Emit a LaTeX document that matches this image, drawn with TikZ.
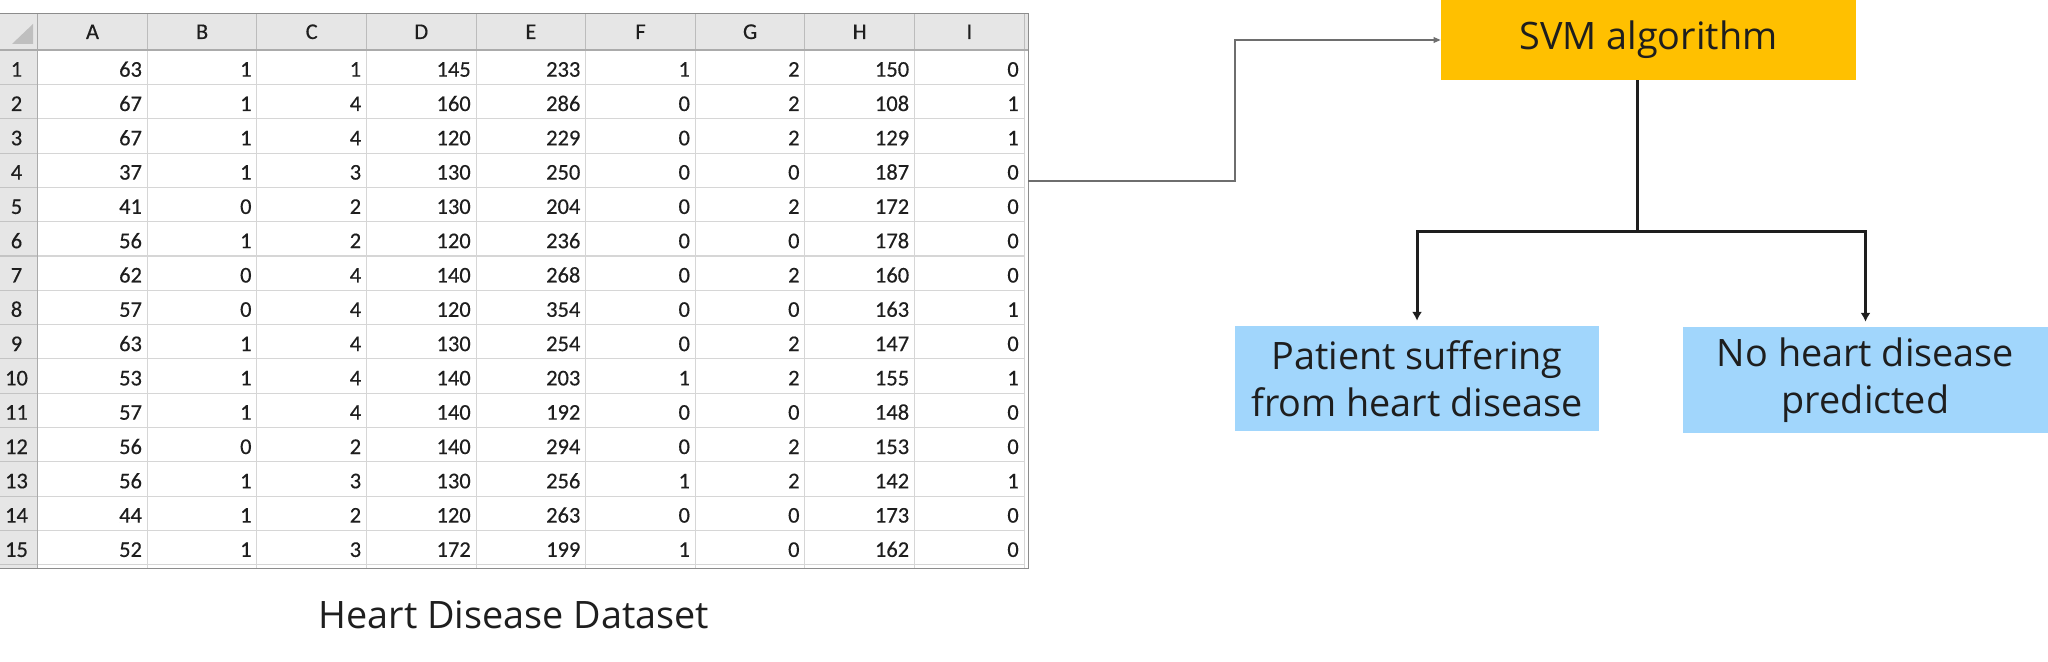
\documentclass[tikz,border=0pt]{standalone}
\usepackage{fontspec}
\setmainfont{Open Sans}
\newfontfamily\cellfont[FakeBold=0.4]{Carlito}
\usetikzlibrary{arrows.meta,positioning}
\definecolor{svmgold}{HTML}{FFC000}
\definecolor{outblue}{HTML}{A1D6FC}
\definecolor{gridgray}{HTML}{D6D6D6}
\definecolor{headgray}{HTML}{E6E6E6}
\definecolor{headline}{HTML}{ABABAB}
\definecolor{sheetline}{HTML}{8C8C8C}
\definecolor{linkgray}{HTML}{6E6E6E}
\definecolor{inkdark}{HTML}{1E1E1E}

\begin{document}
\begin{tikzpicture}[
    x=0.02cm,y=-0.02cm,
    box/.style={inner sep=0pt, align=center, text=inkdark, font=\fontsize{21.5}{26.7}\selectfont},
    cell/.style={inner sep=0pt, anchor=base east, text=inkdark, font=\cellfont\fontsize{12.8}{14}\selectfont},
    headtxt/.style={cell, anchor=base},
    link/.style={linkgray, line width=0.85pt, -{Triangle[length=4pt,width=3.2pt]}},
    branch/.style={inkdark, line width=1.7pt}
    ]
    \useasboundingbox (0,0) rectangle (2048,662);
    % spreadsheet
    \node[inner sep=0pt, minimum width=20.56cm, minimum height=11.08cm] (sheet) at (514,291) {};
    \fill[headgray] (0,14) rectangle (1028,50.2);
    \fill[headgray] (0,50.2) rectangle (37.7,568);
    \foreach \k in {1,...,15} \draw[gridgray, line width=0.6pt] (37.7,50.2+\k*34.3) -- (1024,50.2+\k*34.3);
    \foreach \k in {1,...,15} \draw[headline!70, line width=0.6pt] (0,50.2+\k*34.3) -- (37.7,50.2+\k*34.3);
    \foreach \k in {1,...,9} \draw[gridgray, line width=0.6pt] (37.7+\k*109.6,50.2) -- (37.7+\k*109.6,568);
    \foreach \k in {1,...,9} \draw[headline!80, line width=0.6pt] (37.7+\k*109.6,14) -- (37.7+\k*109.6,50.2);
    \draw[headline, line width=0.8pt] (0,50.2) -- (1028,50.2);
    \draw[headline, line width=0.8pt] (37.7,14) -- (37.7,568);
    \fill[gray!50] (33,24) -- (33,44) -- (12,44) -- cycle;
    \foreach \l [count=\c] in {A,B,C,D,E,F,G,H,I}
      \node[headtxt] (col-\l) at (37.7+\c*109.6-54.8,39) {\l};
    \foreach \vals [count=\r] in {{63,1,1,145,233,1,2,150,0},{67,1,4,160,286,0,2,108,1},
        {67,1,4,120,229,0,2,129,1},{37,1,3,130,250,0,0,187,0},{41,0,2,130,204,0,2,172,0},
        {56,1,2,120,236,0,0,178,0},{62,0,4,140,268,0,2,160,0},{57,0,4,120,354,0,0,163,1},
        {63,1,4,130,254,0,2,147,0},{53,1,4,140,203,1,2,155,1},{57,1,4,140,192,0,0,148,0},
        {56,0,2,140,294,0,2,153,0},{56,1,3,130,256,1,2,142,1},{44,1,2,120,263,0,0,173,0},
        {52,1,3,172,199,1,0,162,0}}{
      \node[headtxt] (row-\r) at (16.5,42.4+\r*34.3) {\r};
      \foreach \v [count=\c] in \vals
        \node[cell] (c-\r-\c) at (37.7+\c*109.6-5,42.4+\r*34.3) {\v};
    }
    \draw[sheetline, line width=0.8pt] (sheet.north west) rectangle (sheet.south east);
    \node[box, anchor=base] (title) at (514,628) {Heart Disease Dataset};

    % flow
    \node[box, fill=svmgold, minimum width=8.3cm, minimum height=1.6cm] (svm) at (1648.5,40) {SVM algorithm};
    \node[box, fill=outblue, minimum width=7.28cm, minimum height=2.1cm] (pos) at (1417,378.5) {Patient suffering\\from heart disease};
    \node[box, fill=outblue, minimum width=7.3cm, minimum height=2.12cm] (neg) at (1865.5,380) {No heart disease\\predicted};
    \coordinate (tap) at (1028,181);
    \coordinate (bend) at (1235,181);
    \coordinate (split) at (1637,231.5);
    \draw[link] (tap) -- (bend) |- (svm.west);
    \draw[branch] (split |- svm.south) -- (split);
    \draw[branch, -{Latex[length=5pt,width=5.6pt]}, shorten >=2.8pt] (split) -| (pos.north);
    \draw[branch, -{Latex[length=5pt,width=5.6pt]}, shorten >=2.8pt] (split) -| (neg.north);
\end{tikzpicture}
\end{document}
